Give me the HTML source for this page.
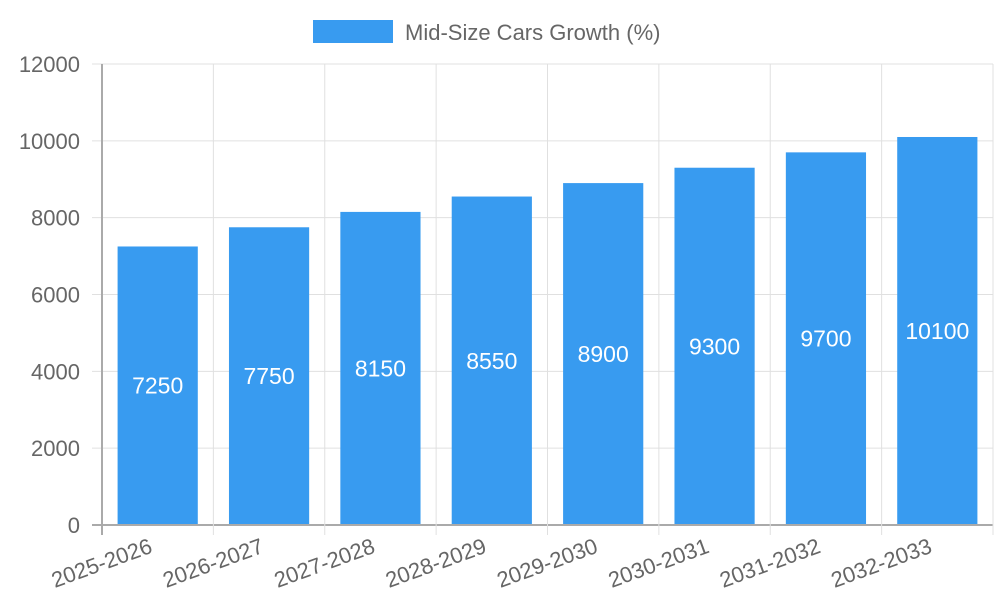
<!DOCTYPE html>
<html><head><meta charset="utf-8"><style>
body{margin:0;background:#fff}
svg{display:block;font-family:"Liberation Sans",sans-serif}
</style></head><body>
<svg id="c" width="1000" height="600">
<g id="grid"></g>
<g id="bars"></g>
<g id="labels"></g>
<g>
<rect x="313" y="20" width="80" height="23" fill="#389bf0"/>
<text x="405" y="40" font-size="22" fill="#666">Mid-Size Cars Growth (%)</text>
</g>
</svg>
<script>
const categories=["2025-2026","2026-2027","2027-2028","2028-2029","2029-2030","2030-2031","2031-2032","2032-2033"];
const values=[7250,7750,8150,8550,8900,9300,9700,10100];
const yTicks=[0,2000,4000,6000,8000,10000,12000];
const X0=102,X1=993,Y0=525,Y1=64,YMAX=12000;
const NS="http://www.w3.org/2000/svg";
const bw=(X1-X0)/categories.length;
const y=v=>Y0-(v/YMAX)*(Y0-Y1);
const xc=i=>X0+bw*(i+0.5);
function mk(t,a,p){const e=document.createElementNS(NS,t);for(const k in a)e.setAttribute(k,a[k]);p.appendChild(e);return e;}
const g=document.getElementById('grid'),b=document.getElementById('bars'),l=document.getElementById('labels');
yTicks.forEach(v=>{
 const ln=mk('line',{x1:92,x2:X1,y1:y(v),y2:y(v),stroke:v===0?'#aaa':'#e0e0e0','stroke-width':v===0?2:1},g);
 
 
 const t=mk('text',{x:80,y:y(v)+8,'text-anchor':'end','font-size':22,fill:'#666'},l);
 t.textContent=v;
 
 
});
for(let i=0;i<=categories.length;i++){
 const x=X0+bw*i;
 const ln=mk('line',{x1:x,x2:x,y1:Y1,y2:535,stroke:i===0?'#aaa':'#e0e0e0','stroke-width':i===0?2:1},g);
 
 
}
categories.forEach((c,i)=>{
 const w=bw*0.72;
 const r=mk('rect',{x:xc(i)-w/2,y:y(values[i]),width:w,height:Y0-y(values[i])-1,fill:'#389bf0'},b);
 
 
 const vt=mk('text',{x:xc(i),y:(y(values[i])+Y0)/2+8,'text-anchor':'middle','font-size':23,fill:'#fff'},l);
 vt.textContent=values[i];
 
 
 const xt=mk('text',{x:xc(i)-4,y:552,'text-anchor':'end','font-size':22,fill:'#666',transform:`rotate(-20 ${xc(i)-4} 552)`},l);
 xt.textContent=c;
 
 
});
</script>
</body></html>
